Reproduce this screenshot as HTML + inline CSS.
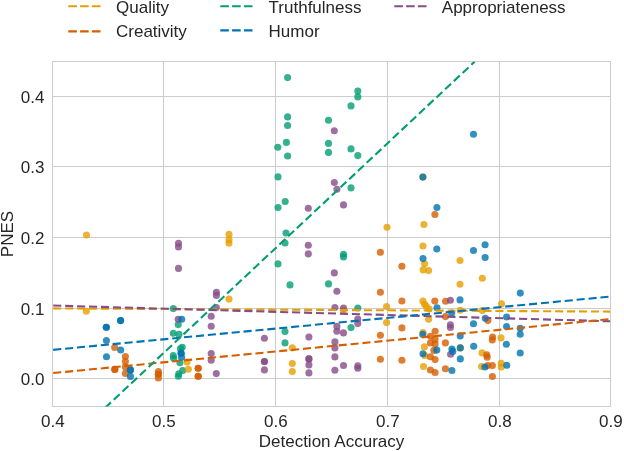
<!DOCTYPE html>
<html><head><meta charset="utf-8"><style>
html,body{margin:0;padding:0;background:#fff;width:624px;height:451px;overflow:hidden}
svg{display:block;will-change:transform}
.g{stroke:#cccccc;stroke-width:1.0}
.tl{stroke-width:2.1;stroke-dasharray:8.1 3.85;stroke-opacity:1}
.ll{stroke-width:2.1;stroke-dasharray:8.6 3.2;stroke-opacity:1}
.t{font-family:"Liberation Sans",sans-serif;font-size:17px;fill:#262626}
</style></head><body>
<svg width="624" height="451" viewBox="0 0 624 451">
<line x1="163.5" y1="61.5" x2="163.5" y2="406.5" class="g"/>
<line x1="275.5" y1="61.5" x2="275.5" y2="406.5" class="g"/>
<line x1="387.5" y1="61.5" x2="387.5" y2="406.5" class="g"/>
<line x1="499.5" y1="61.5" x2="499.5" y2="406.5" class="g"/>
<line x1="52.5" y1="96.5" x2="610.5" y2="96.5" class="g"/>
<line x1="52.5" y1="166.5" x2="610.5" y2="166.5" class="g"/>
<line x1="52.5" y1="237.5" x2="610.5" y2="237.5" class="g"/>
<line x1="52.5" y1="308.5" x2="610.5" y2="308.5" class="g"/>
<line x1="52.5" y1="378.5" x2="610.5" y2="378.5" class="g"/>
<rect x="52.5" y="61.5" width="558.00" height="345.00" class="g" fill="none"/>
<defs><clipPath id="cp"><rect x="52.5" y="61.5" width="558.00" height="345.00"/></clipPath></defs>
<g clip-path="url(#cp)">
<circle cx="287.6" cy="77.6" r="3.55" fill="#029E73" fill-opacity="0.8"/>
<circle cx="357.8" cy="91.0" r="3.55" fill="#029E73" fill-opacity="0.8"/>
<circle cx="357.8" cy="96.9" r="3.55" fill="#029E73" fill-opacity="0.8"/>
<circle cx="351.0" cy="105.9" r="3.55" fill="#029E73" fill-opacity="0.8"/>
<circle cx="287.6" cy="116.9" r="3.55" fill="#029E73" fill-opacity="0.8"/>
<circle cx="287.6" cy="125.5" r="3.55" fill="#029E73" fill-opacity="0.8"/>
<circle cx="328.5" cy="120.3" r="3.55" fill="#029E73" fill-opacity="0.8"/>
<circle cx="286.4" cy="142.4" r="3.55" fill="#029E73" fill-opacity="0.8"/>
<circle cx="277.8" cy="147.2" r="3.55" fill="#029E73" fill-opacity="0.8"/>
<circle cx="328.5" cy="143.4" r="3.55" fill="#029E73" fill-opacity="0.8"/>
<circle cx="351.0" cy="148.9" r="3.55" fill="#029E73" fill-opacity="0.8"/>
<circle cx="287.6" cy="156.0" r="3.55" fill="#029E73" fill-opacity="0.8"/>
<circle cx="328.5" cy="152.4" r="3.55" fill="#029E73" fill-opacity="0.8"/>
<circle cx="357.8" cy="155.6" r="3.55" fill="#029E73" fill-opacity="0.8"/>
<circle cx="278.0" cy="176.9" r="3.55" fill="#029E73" fill-opacity="0.8"/>
<circle cx="351.0" cy="187.9" r="3.55" fill="#029E73" fill-opacity="0.8"/>
<circle cx="278.0" cy="207.5" r="3.55" fill="#029E73" fill-opacity="0.8"/>
<circle cx="285.2" cy="201.5" r="3.55" fill="#029E73" fill-opacity="0.8"/>
<circle cx="286.0" cy="233.0" r="3.55" fill="#029E73" fill-opacity="0.8"/>
<circle cx="285.0" cy="243.0" r="3.55" fill="#029E73" fill-opacity="0.8"/>
<circle cx="278.0" cy="263.9" r="3.55" fill="#029E73" fill-opacity="0.8"/>
<circle cx="343.5" cy="254.3" r="3.55" fill="#029E73" fill-opacity="0.8"/>
<circle cx="343.5" cy="256.9" r="3.55" fill="#029E73" fill-opacity="0.8"/>
<circle cx="290.0" cy="284.9" r="3.55" fill="#029E73" fill-opacity="0.8"/>
<circle cx="328.5" cy="283.9" r="3.55" fill="#029E73" fill-opacity="0.8"/>
<circle cx="357.8" cy="308.0" r="3.55" fill="#029E73" fill-opacity="0.8"/>
<circle cx="351.0" cy="327.6" r="3.55" fill="#029E73" fill-opacity="0.8"/>
<circle cx="285.0" cy="331.5" r="3.55" fill="#029E73" fill-opacity="0.8"/>
<circle cx="285.0" cy="342.9" r="3.55" fill="#029E73" fill-opacity="0.8"/>
<circle cx="173.3" cy="308.6" r="3.55" fill="#029E73" fill-opacity="0.8"/>
<circle cx="178.2" cy="324.6" r="3.55" fill="#029E73" fill-opacity="0.8"/>
<circle cx="173.3" cy="333.3" r="3.55" fill="#029E73" fill-opacity="0.8"/>
<circle cx="179.0" cy="334.3" r="3.55" fill="#029E73" fill-opacity="0.8"/>
<circle cx="182.2" cy="347.2" r="3.55" fill="#029E73" fill-opacity="0.8"/>
<circle cx="180.5" cy="348.9" r="3.55" fill="#029E73" fill-opacity="0.8"/>
<circle cx="173.3" cy="355.5" r="3.55" fill="#029E73" fill-opacity="0.8"/>
<circle cx="179.9" cy="362.7" r="3.55" fill="#029E73" fill-opacity="0.8"/>
<circle cx="182.7" cy="370.5" r="3.55" fill="#029E73" fill-opacity="0.8"/>
<circle cx="178.8" cy="373.8" r="3.55" fill="#029E73" fill-opacity="0.8"/>
<circle cx="178.3" cy="376.2" r="3.55" fill="#029E73" fill-opacity="0.8"/>
<circle cx="173.6" cy="358.2" r="3.55" fill="#029E73" fill-opacity="0.8"/>
<circle cx="86.5" cy="235.0" r="3.55" fill="#E69F00" fill-opacity="0.8"/>
<circle cx="292.3" cy="347.9" r="3.55" fill="#E69F00" fill-opacity="0.8"/>
<circle cx="292.3" cy="363.5" r="3.55" fill="#E69F00" fill-opacity="0.8"/>
<circle cx="292.3" cy="371.5" r="3.55" fill="#E69F00" fill-opacity="0.8"/>
<circle cx="86.3" cy="311.2" r="3.55" fill="#E69F00" fill-opacity="0.8"/>
<circle cx="229.0" cy="234.4" r="3.55" fill="#E69F00" fill-opacity="0.8"/>
<circle cx="229.0" cy="239.8" r="3.55" fill="#E69F00" fill-opacity="0.8"/>
<circle cx="229.0" cy="243.2" r="3.55" fill="#E69F00" fill-opacity="0.8"/>
<circle cx="229.0" cy="299.1" r="3.55" fill="#E69F00" fill-opacity="0.8"/>
<circle cx="187.1" cy="362.1" r="3.55" fill="#E69F00" fill-opacity="0.8"/>
<circle cx="188.3" cy="369.3" r="3.55" fill="#E69F00" fill-opacity="0.8"/>
<circle cx="422.9" cy="177.1" r="3.55" fill="#E69F00" fill-opacity="0.8"/>
<circle cx="423.9" cy="224.5" r="3.55" fill="#E69F00" fill-opacity="0.8"/>
<circle cx="387.0" cy="227.3" r="3.55" fill="#E69F00" fill-opacity="0.8"/>
<circle cx="423.0" cy="246.0" r="3.55" fill="#E69F00" fill-opacity="0.8"/>
<circle cx="424.6" cy="263.7" r="3.55" fill="#E69F00" fill-opacity="0.8"/>
<circle cx="423.2" cy="269.9" r="3.55" fill="#E69F00" fill-opacity="0.8"/>
<circle cx="428.6" cy="270.6" r="3.55" fill="#E69F00" fill-opacity="0.8"/>
<circle cx="460.0" cy="260.5" r="3.55" fill="#E69F00" fill-opacity="0.8"/>
<circle cx="482.3" cy="278.3" r="3.55" fill="#E69F00" fill-opacity="0.8"/>
<circle cx="460.0" cy="284.3" r="3.55" fill="#E69F00" fill-opacity="0.8"/>
<circle cx="501.5" cy="303.9" r="3.55" fill="#E69F00" fill-opacity="0.8"/>
<circle cx="386.6" cy="306.6" r="3.55" fill="#E69F00" fill-opacity="0.8"/>
<circle cx="386.6" cy="322.6" r="3.55" fill="#E69F00" fill-opacity="0.8"/>
<circle cx="422.9" cy="301.1" r="3.55" fill="#E69F00" fill-opacity="0.8"/>
<circle cx="424.6" cy="304.2" r="3.55" fill="#E69F00" fill-opacity="0.8"/>
<circle cx="426.4" cy="306.4" r="3.55" fill="#E69F00" fill-opacity="0.8"/>
<circle cx="429.1" cy="309.1" r="3.55" fill="#E69F00" fill-opacity="0.8"/>
<circle cx="428.6" cy="319.3" r="3.55" fill="#E69F00" fill-opacity="0.8"/>
<circle cx="460.2" cy="310.3" r="3.55" fill="#E69F00" fill-opacity="0.8"/>
<circle cx="482.3" cy="310.6" r="3.55" fill="#E69F00" fill-opacity="0.8"/>
<circle cx="501.0" cy="337.9" r="3.55" fill="#E69F00" fill-opacity="0.8"/>
<circle cx="423.0" cy="332.5" r="3.55" fill="#E69F00" fill-opacity="0.8"/>
<circle cx="424.4" cy="346.9" r="3.55" fill="#E69F00" fill-opacity="0.8"/>
<circle cx="424.7" cy="355.5" r="3.55" fill="#E69F00" fill-opacity="0.8"/>
<circle cx="423.5" cy="366.5" r="3.55" fill="#E69F00" fill-opacity="0.8"/>
<circle cx="460.3" cy="347.9" r="3.55" fill="#E69F00" fill-opacity="0.8"/>
<circle cx="482.1" cy="352.9" r="3.55" fill="#E69F00" fill-opacity="0.8"/>
<circle cx="481.6" cy="366.5" r="3.55" fill="#E69F00" fill-opacity="0.8"/>
<circle cx="501.2" cy="363.3" r="3.55" fill="#E69F00" fill-opacity="0.8"/>
<circle cx="501.2" cy="367.0" r="3.55" fill="#E69F00" fill-opacity="0.8"/>
<circle cx="343.3" cy="310.2" r="3.55" fill="#E69F00" fill-opacity="0.8"/>
<circle cx="114.7" cy="347.4" r="3.55" fill="#D55E00" fill-opacity="0.8"/>
<circle cx="125.4" cy="356.5" r="3.55" fill="#D55E00" fill-opacity="0.8"/>
<circle cx="125.4" cy="361.5" r="3.55" fill="#D55E00" fill-opacity="0.8"/>
<circle cx="125.4" cy="366.9" r="3.55" fill="#D55E00" fill-opacity="0.8"/>
<circle cx="125.4" cy="373.4" r="3.55" fill="#D55E00" fill-opacity="0.8"/>
<circle cx="114.8" cy="369.4" r="3.55" fill="#D55E00" fill-opacity="0.8"/>
<circle cx="114.8" cy="369.4" r="3.55" fill="#D55E00" fill-opacity="0.8"/>
<circle cx="158.4" cy="371.5" r="3.55" fill="#D55E00" fill-opacity="0.8"/>
<circle cx="158.4" cy="374.2" r="3.55" fill="#D55E00" fill-opacity="0.8"/>
<circle cx="158.4" cy="374.2" r="3.55" fill="#D55E00" fill-opacity="0.8"/>
<circle cx="158.4" cy="378.0" r="3.55" fill="#D55E00" fill-opacity="0.8"/>
<circle cx="198.2" cy="368.3" r="3.55" fill="#D55E00" fill-opacity="0.8"/>
<circle cx="198.2" cy="368.3" r="3.55" fill="#D55E00" fill-opacity="0.8"/>
<circle cx="198.2" cy="376.3" r="3.55" fill="#D55E00" fill-opacity="0.8"/>
<circle cx="198.2" cy="376.3" r="3.55" fill="#D55E00" fill-opacity="0.8"/>
<circle cx="434.9" cy="214.5" r="3.55" fill="#D55E00" fill-opacity="0.8"/>
<circle cx="380.4" cy="252.3" r="3.55" fill="#D55E00" fill-opacity="0.8"/>
<circle cx="401.9" cy="266.3" r="3.55" fill="#D55E00" fill-opacity="0.8"/>
<circle cx="445.6" cy="301.3" r="3.55" fill="#D55E00" fill-opacity="0.8"/>
<circle cx="380.4" cy="292.2" r="3.55" fill="#D55E00" fill-opacity="0.8"/>
<circle cx="401.9" cy="301.0" r="3.55" fill="#D55E00" fill-opacity="0.8"/>
<circle cx="401.9" cy="327.9" r="3.55" fill="#D55E00" fill-opacity="0.8"/>
<circle cx="380.4" cy="335.2" r="3.55" fill="#D55E00" fill-opacity="0.8"/>
<circle cx="435.1" cy="331.2" r="3.55" fill="#D55E00" fill-opacity="0.8"/>
<circle cx="430.5" cy="336.2" r="3.55" fill="#D55E00" fill-opacity="0.8"/>
<circle cx="434.8" cy="301.1" r="3.55" fill="#D55E00" fill-opacity="0.8"/>
<circle cx="445.5" cy="316.6" r="3.55" fill="#D55E00" fill-opacity="0.8"/>
<circle cx="487.9" cy="320.6" r="3.55" fill="#D55E00" fill-opacity="0.8"/>
<circle cx="492.6" cy="337.0" r="3.55" fill="#D55E00" fill-opacity="0.8"/>
<circle cx="435.1" cy="339.4" r="3.55" fill="#D55E00" fill-opacity="0.8"/>
<circle cx="430.4" cy="342.9" r="3.55" fill="#D55E00" fill-opacity="0.8"/>
<circle cx="435.1" cy="344.0" r="3.55" fill="#D55E00" fill-opacity="0.8"/>
<circle cx="445.4" cy="342.9" r="3.55" fill="#D55E00" fill-opacity="0.8"/>
<circle cx="433.9" cy="350.4" r="3.55" fill="#D55E00" fill-opacity="0.8"/>
<circle cx="430.4" cy="356.7" r="3.55" fill="#D55E00" fill-opacity="0.8"/>
<circle cx="435.1" cy="359.6" r="3.55" fill="#D55E00" fill-opacity="0.8"/>
<circle cx="430.4" cy="370.0" r="3.55" fill="#D55E00" fill-opacity="0.8"/>
<circle cx="435.1" cy="372.5" r="3.55" fill="#D55E00" fill-opacity="0.8"/>
<circle cx="445.4" cy="368.8" r="3.55" fill="#D55E00" fill-opacity="0.8"/>
<circle cx="380.4" cy="359.3" r="3.55" fill="#D55E00" fill-opacity="0.8"/>
<circle cx="401.9" cy="360.3" r="3.55" fill="#D55E00" fill-opacity="0.8"/>
<circle cx="492.3" cy="339.9" r="3.55" fill="#D55E00" fill-opacity="0.8"/>
<circle cx="486.8" cy="354.9" r="3.55" fill="#D55E00" fill-opacity="0.8"/>
<circle cx="487.2" cy="357.2" r="3.55" fill="#D55E00" fill-opacity="0.8"/>
<circle cx="487.7" cy="365.6" r="3.55" fill="#D55E00" fill-opacity="0.8"/>
<circle cx="492.4" cy="365.6" r="3.55" fill="#D55E00" fill-opacity="0.8"/>
<circle cx="492.4" cy="376.5" r="3.55" fill="#D55E00" fill-opacity="0.8"/>
<circle cx="334.3" cy="130.7" r="3.55" fill="#864C88" fill-opacity="0.8"/>
<circle cx="334.3" cy="182.5" r="3.55" fill="#864C88" fill-opacity="0.8"/>
<circle cx="336.9" cy="189.3" r="3.55" fill="#864C88" fill-opacity="0.8"/>
<circle cx="308.3" cy="208.3" r="3.55" fill="#864C88" fill-opacity="0.8"/>
<circle cx="343.5" cy="204.9" r="3.55" fill="#864C88" fill-opacity="0.8"/>
<circle cx="308.3" cy="245.2" r="3.55" fill="#864C88" fill-opacity="0.8"/>
<circle cx="308.3" cy="253.9" r="3.55" fill="#864C88" fill-opacity="0.8"/>
<circle cx="334.3" cy="272.9" r="3.55" fill="#864C88" fill-opacity="0.8"/>
<circle cx="336.9" cy="291.3" r="3.55" fill="#864C88" fill-opacity="0.8"/>
<circle cx="334.9" cy="307.6" r="3.55" fill="#864C88" fill-opacity="0.8"/>
<circle cx="343.5" cy="308.0" r="3.55" fill="#864C88" fill-opacity="0.8"/>
<circle cx="357.8" cy="319.0" r="3.55" fill="#864C88" fill-opacity="0.8"/>
<circle cx="357.8" cy="323.6" r="3.55" fill="#864C88" fill-opacity="0.8"/>
<circle cx="336.9" cy="326.4" r="3.55" fill="#864C88" fill-opacity="0.8"/>
<circle cx="336.9" cy="331.3" r="3.55" fill="#864C88" fill-opacity="0.8"/>
<circle cx="343.5" cy="332.9" r="3.55" fill="#864C88" fill-opacity="0.8"/>
<circle cx="264.4" cy="338.3" r="3.55" fill="#864C88" fill-opacity="0.8"/>
<circle cx="308.9" cy="337.1" r="3.55" fill="#864C88" fill-opacity="0.8"/>
<circle cx="334.9" cy="341.9" r="3.55" fill="#864C88" fill-opacity="0.8"/>
<circle cx="334.9" cy="347.9" r="3.55" fill="#864C88" fill-opacity="0.8"/>
<circle cx="334.9" cy="356.9" r="3.55" fill="#864C88" fill-opacity="0.8"/>
<circle cx="264.4" cy="361.5" r="3.55" fill="#864C88" fill-opacity="0.8"/>
<circle cx="264.4" cy="361.5" r="3.55" fill="#864C88" fill-opacity="0.8"/>
<circle cx="264.4" cy="369.9" r="3.55" fill="#864C88" fill-opacity="0.8"/>
<circle cx="308.9" cy="358.9" r="3.55" fill="#864C88" fill-opacity="0.8"/>
<circle cx="308.9" cy="358.9" r="3.55" fill="#864C88" fill-opacity="0.8"/>
<circle cx="308.9" cy="364.9" r="3.55" fill="#864C88" fill-opacity="0.8"/>
<circle cx="308.9" cy="372.9" r="3.55" fill="#864C88" fill-opacity="0.8"/>
<circle cx="343.5" cy="365.5" r="3.55" fill="#864C88" fill-opacity="0.8"/>
<circle cx="334.9" cy="370.3" r="3.55" fill="#864C88" fill-opacity="0.8"/>
<circle cx="357.8" cy="365.9" r="3.55" fill="#864C88" fill-opacity="0.8"/>
<circle cx="357.8" cy="368.3" r="3.55" fill="#864C88" fill-opacity="0.8"/>
<circle cx="178.5" cy="243.2" r="3.55" fill="#864C88" fill-opacity="0.8"/>
<circle cx="178.5" cy="246.9" r="3.55" fill="#864C88" fill-opacity="0.8"/>
<circle cx="178.5" cy="268.4" r="3.55" fill="#864C88" fill-opacity="0.8"/>
<circle cx="216.4" cy="292.3" r="3.55" fill="#864C88" fill-opacity="0.8"/>
<circle cx="216.4" cy="295.4" r="3.55" fill="#864C88" fill-opacity="0.8"/>
<circle cx="178.2" cy="319.2" r="3.55" fill="#864C88" fill-opacity="0.8"/>
<circle cx="211.2" cy="316.3" r="3.55" fill="#864C88" fill-opacity="0.8"/>
<circle cx="211.2" cy="326.3" r="3.55" fill="#864C88" fill-opacity="0.8"/>
<circle cx="216.3" cy="307.6" r="3.55" fill="#864C88" fill-opacity="0.8"/>
<circle cx="211.2" cy="353.6" r="3.55" fill="#864C88" fill-opacity="0.8"/>
<circle cx="211.2" cy="360.3" r="3.55" fill="#864C88" fill-opacity="0.8"/>
<circle cx="216.3" cy="373.6" r="3.55" fill="#864C88" fill-opacity="0.8"/>
<circle cx="450.4" cy="300.3" r="3.55" fill="#864C88" fill-opacity="0.8"/>
<circle cx="450.4" cy="324.8" r="3.55" fill="#864C88" fill-opacity="0.8"/>
<circle cx="450.4" cy="327.5" r="3.55" fill="#864C88" fill-opacity="0.8"/>
<circle cx="450.6" cy="354.3" r="3.55" fill="#864C88" fill-opacity="0.8"/>
<circle cx="120.6" cy="320.6" r="3.55" fill="#0173B2" fill-opacity="0.8"/>
<circle cx="120.6" cy="320.6" r="3.55" fill="#0173B2" fill-opacity="0.8"/>
<circle cx="106.3" cy="327.2" r="3.55" fill="#0173B2" fill-opacity="0.8"/>
<circle cx="106.3" cy="327.2" r="3.55" fill="#0173B2" fill-opacity="0.8"/>
<circle cx="106.4" cy="340.5" r="3.55" fill="#0173B2" fill-opacity="0.8"/>
<circle cx="120.7" cy="350.0" r="3.55" fill="#0173B2" fill-opacity="0.8"/>
<circle cx="106.5" cy="356.8" r="3.55" fill="#0173B2" fill-opacity="0.8"/>
<circle cx="130.4" cy="369.9" r="3.55" fill="#0173B2" fill-opacity="0.8"/>
<circle cx="130.4" cy="369.9" r="3.55" fill="#0173B2" fill-opacity="0.8"/>
<circle cx="130.4" cy="376.4" r="3.55" fill="#0173B2" fill-opacity="0.8"/>
<circle cx="181.7" cy="319.2" r="3.55" fill="#0173B2" fill-opacity="0.8"/>
<circle cx="181.1" cy="353.3" r="3.55" fill="#0173B2" fill-opacity="0.8"/>
<circle cx="181.1" cy="353.3" r="3.55" fill="#0173B2" fill-opacity="0.8"/>
<circle cx="181.6" cy="357.2" r="3.55" fill="#0173B2" fill-opacity="0.8"/>
<circle cx="422.9" cy="177.1" r="3.55" fill="#0173B2" fill-opacity="0.8"/>
<circle cx="436.9" cy="207.5" r="3.55" fill="#0173B2" fill-opacity="0.8"/>
<circle cx="473.5" cy="134.3" r="3.55" fill="#0173B2" fill-opacity="0.8"/>
<circle cx="436.8" cy="249.0" r="3.55" fill="#0173B2" fill-opacity="0.8"/>
<circle cx="423.0" cy="258.6" r="3.55" fill="#0173B2" fill-opacity="0.8"/>
<circle cx="485.1" cy="244.8" r="3.55" fill="#0173B2" fill-opacity="0.8"/>
<circle cx="473.5" cy="250.5" r="3.55" fill="#0173B2" fill-opacity="0.8"/>
<circle cx="485.1" cy="257.5" r="3.55" fill="#0173B2" fill-opacity="0.8"/>
<circle cx="520.3" cy="293.1" r="3.55" fill="#0173B2" fill-opacity="0.8"/>
<circle cx="460.0" cy="299.9" r="3.55" fill="#0173B2" fill-opacity="0.8"/>
<circle cx="422.8" cy="334.4" r="3.55" fill="#0173B2" fill-opacity="0.8"/>
<circle cx="437.0" cy="307.7" r="3.55" fill="#0173B2" fill-opacity="0.8"/>
<circle cx="451.7" cy="313.0" r="3.55" fill="#0173B2" fill-opacity="0.8"/>
<circle cx="473.5" cy="323.7" r="3.55" fill="#0173B2" fill-opacity="0.8"/>
<circle cx="485.3" cy="318.3" r="3.55" fill="#0173B2" fill-opacity="0.8"/>
<circle cx="506.6" cy="317.0" r="3.55" fill="#0173B2" fill-opacity="0.8"/>
<circle cx="506.6" cy="326.6" r="3.55" fill="#0173B2" fill-opacity="0.8"/>
<circle cx="460.2" cy="335.9" r="3.55" fill="#0173B2" fill-opacity="0.8"/>
<circle cx="520.2" cy="328.2" r="3.55" fill="#0173B2" fill-opacity="0.8"/>
<circle cx="520.2" cy="334.3" r="3.55" fill="#0173B2" fill-opacity="0.8"/>
<circle cx="436.8" cy="350.1" r="3.55" fill="#0173B2" fill-opacity="0.8"/>
<circle cx="423.0" cy="353.8" r="3.55" fill="#0173B2" fill-opacity="0.8"/>
<circle cx="451.9" cy="349.0" r="3.55" fill="#0173B2" fill-opacity="0.8"/>
<circle cx="460.3" cy="347.9" r="3.55" fill="#0173B2" fill-opacity="0.8"/>
<circle cx="460.3" cy="358.9" r="3.55" fill="#0173B2" fill-opacity="0.8"/>
<circle cx="506.4" cy="344.2" r="3.55" fill="#0173B2" fill-opacity="0.8"/>
<circle cx="520.2" cy="353.0" r="3.55" fill="#0173B2" fill-opacity="0.8"/>
<circle cx="451.9" cy="370.5" r="3.55" fill="#0173B2" fill-opacity="0.8"/>
<circle cx="473.7" cy="346.3" r="3.55" fill="#0173B2" fill-opacity="0.8"/>
<circle cx="484.9" cy="367.0" r="3.55" fill="#0173B2" fill-opacity="0.8"/>
<circle cx="506.8" cy="365.3" r="3.55" fill="#0173B2" fill-opacity="0.8"/>
<circle cx="452.8" cy="351.4" r="3.55" fill="#0173B2" fill-opacity="0.8"/>
<line x1="52.5" y1="308.4" x2="610.2" y2="311.6" stroke="#E69F00" stroke-dashoffset="-0.7" class="tl"/>
<line x1="52.5" y1="305.5" x2="610.2" y2="321.3" stroke="#864C88" stroke-dashoffset="-0.7" class="tl"/>
<line x1="52.5" y1="349.9" x2="610.2" y2="296.6" stroke="#0173B2" stroke-dashoffset="-0.7" class="tl"/>
<line x1="52.5" y1="373.1" x2="610.2" y2="319.1" stroke="#D55E00" stroke-dashoffset="-0.7" class="tl"/>
<line x1="52.4" y1="457.2" x2="474.6" y2="61.7" stroke="#029E73" stroke-dashoffset="-0.4" class="tl"/>
</g>
<text x="52.80" y="427.1" text-anchor="middle" class="t">0.4</text>
<text x="163.80" y="427.1" text-anchor="middle" class="t">0.5</text>
<text x="275.80" y="427.1" text-anchor="middle" class="t">0.6</text>
<text x="387.80" y="427.1" text-anchor="middle" class="t">0.7</text>
<text x="499.80" y="427.1" text-anchor="middle" class="t">0.8</text>
<text x="610.80" y="427.1" text-anchor="middle" class="t">0.9</text>
<text x="44.4" y="384.50" text-anchor="end" class="t">0.0</text>
<text x="44.4" y="314.50" text-anchor="end" class="t">0.1</text>
<text x="44.4" y="243.50" text-anchor="end" class="t">0.2</text>
<text x="44.4" y="172.50" text-anchor="end" class="t">0.3</text>
<text x="44.4" y="102.50" text-anchor="end" class="t">0.4</text>
<text x="331.50" y="446.8" text-anchor="middle" class="t">Detection Accuracy</text>
<text transform="translate(12.6,234.00) rotate(-90)" text-anchor="middle" class="t">PNES</text>
<line x1="68.3" y1="6.3" x2="100.9" y2="6.3" stroke="#E69F00" class="ll"/>
<text x="116.0" y="13.1" class="t">Quality</text>
<line x1="68.3" y1="31.4" x2="100.9" y2="31.4" stroke="#D55E00" class="ll"/>
<text x="116.0" y="36.5" class="t">Creativity</text>
<line x1="220.3" y1="6.3" x2="252.9" y2="6.3" stroke="#029E73" class="ll"/>
<text x="268.6" y="13.1" class="t">Truthfulness</text>
<line x1="220.3" y1="30.4" x2="252.9" y2="30.4" stroke="#0173B2" class="ll"/>
<text x="268.6" y="36.5" class="t">Humor</text>
<line x1="394.3" y1="6.3" x2="426.90000000000003" y2="6.3" stroke="#864C88" class="ll"/>
<text x="441.8" y="13.1" class="t">Appropriateness</text>
</svg></body></html>
